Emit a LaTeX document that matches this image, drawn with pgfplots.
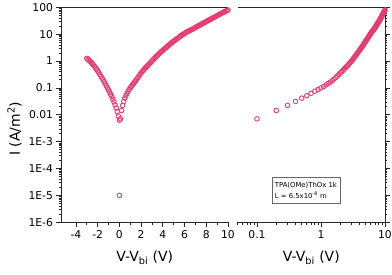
\documentclass[border=0pt]{standalone}
\usepackage{fontspec}
\setmainfont{DejaVu Sans}
\usepackage{pgfplots}
\usepackage{pgfplotstable}
\pgfplotsset{compat=1.18}
\definecolor{mkcol}{RGB}{232,58,112}

\pgfplotstableread{
V I
0.1 0.00708
0.2 0.0145
0.3 0.0224
0.4 0.0316
0.5 0.0417
0.6 0.0513
0.7 0.0631
0.8 0.0759
0.9 0.0871
1.0 0.100
1.1 0.1135
1.2 0.129
1.3 0.146
1.4 0.166
1.5 0.188
1.6 0.214
1.7 0.243
1.8 0.275
1.9 0.316
2.0 0.363
2.1 0.403
2.2 0.447
2.3 0.501
2.4 0.562
2.5 0.617
2.6 0.676
2.7 0.750
2.8 0.832
2.9 0.912
3.0 1.000
3.1 1.109
3.2 1.230
3.3 1.349
3.4 1.479
3.5 1.622
3.6 1.778
3.7 1.950
3.8 2.138
3.9 2.317
4.0 2.512
4.1 2.723
4.2 2.951
4.3 3.199
4.4 3.467
4.5 3.758
4.6 4.074
4.7 4.416
4.8 4.786
4.9 5.129
5.0 5.495
5.1 5.888
5.2 6.310
5.3 6.761
5.4 7.244
5.5 7.762
5.6 8.318
5.7 8.913
5.8 9.550
5.9 10.12
6.0 10.72
6.1 11.35
6.2 12.02
6.3 12.59
6.4 13.18
6.5 13.80
6.6 14.45
6.7 15.14
6.8 15.85
6.9 16.79
7.0 17.78
7.1 18.71
7.2 19.68
7.3 20.70
7.4 21.78
7.5 22.91
7.6 24.10
7.7 25.35
7.8 26.67
7.9 28.05
8.0 29.51
8.1 31.05
8.2 32.66
8.3 34.36
8.4 36.14
8.5 38.02
8.6 40.00
8.7 42.07
8.8 44.26
8.9 46.56
9.0 48.98
9.1 51.52
9.2 54.20
9.3 57.02
9.4 59.98
9.5 63.10
9.6 66.07
9.7 69.18
9.8 72.44
9.9 75.86
10.0 79.43
}\posdata

\pgfplotstableread{
V I
-3.0 1.259
-2.9 1.161
-2.8 1.072
-2.7 0.977
-2.6 0.891
-2.5 0.804
-2.4 0.724
-2.3 0.638
-2.2 0.562
-2.1 0.490
-2.0 0.427
-1.9 0.372
-1.8 0.316
-1.7 0.272
-1.6 0.234
-1.5 0.200
-1.4 0.170
-1.3 0.143
-1.2 0.120
-1.1 0.100
-1.0 0.0832
-0.9 0.0692
-0.8 0.0575
-0.7 0.0479
-0.6 0.0380
-0.5 0.0302
-0.4 0.0234
-0.3 0.0178
-0.2 0.0132
-0.1 0.0089
}\negdata

\pgfplotstableread{
V I
0.0 0.0063
0.0 0.00001
}\zerodata

\begin{document}
\begin{tikzpicture}
\useasboundingbox (-61.5bp,-52.7bp) rectangle (330.5bp,222.3bp);

\begin{semilogyaxis}[
  scale only axis,
  width=166.5bp, height=215bp,
  xmin=-5.33, xmax=10,
  ymin=1e-6, ymax=100,
  xtick={-4,-2,0,2,4,6,8,10},
  xticklabels={-4,-2,0,2,4,6,8,10},
  minor x tick num=1,
  ytick={1e-6,1e-5,1e-4,1e-3,0.01,0.1,1,10,100},
  yticklabels={1E-6,1E-5,1E-4,1E-3,0.01,0.1,1,10,100},
  minor ytick={2e-6,3e-6,4e-6,5e-6,6e-6,7e-6,8e-6,9e-6,
               2e-5,3e-5,4e-5,5e-5,6e-5,7e-5,8e-5,9e-5,
               2e-4,3e-4,4e-4,5e-4,6e-4,7e-4,8e-4,9e-4,
               0.002,0.003,0.004,0.005,0.006,0.007,0.008,0.009,
               0.02,0.03,0.04,0.05,0.06,0.07,0.08,0.09,
               0.2,0.3,0.4,0.5,0.6,0.7,0.8,0.9,
               2,3,4,5,6,7,8,9,
               20,30,40,50,60,70,80,90},
  xtick pos=bottom,
  ytick pos=left,
  axis line style={draw=none},
  tick style={black!85, line width=0.7pt},
  major tick length=5bp,
  minor tick length=2.5bp,
  tick align=outside,
  clip=false,
  tick label style={font=\fontsize{10.8}{12}\selectfont},
  label style={font=\fontsize{14}{16}\selectfont},
  xlabel={V-V\textsubscript{bi} (V)},
  ylabel={I (A/m\textsuperscript{2})},
  xlabel style={at={(axis description cs:0.5,0)}, anchor=center, yshift=-35.7bp},
  ylabel style={at={(axis description cs:-0.282,0.436)}, anchor=center},
]
\addplot[only marks, mark=o, mark size=2.3bp, mark options={draw=mkcol, line width=0.9bp}] table[x=V, y=I] {\negdata};
\addplot[only marks, mark=o, mark size=2.3bp, mark options={draw=mkcol, line width=0.9bp}] table[x=V, y=I] {\posdata};
\addplot[only marks, mark=o, mark size=2.3bp, mark options={draw=mkcol, line width=0.9bp}] table[x=V, y=I] {\zerodata};
\draw[black!85, line width=0.8pt] (rel axis cs:1,1) -- (rel axis cs:0,1) -- (rel axis cs:0,0) -- (rel axis cs:1,0);
\end{semilogyaxis}

\begin{loglogaxis}[
  at={(176.2bp,0)}, anchor=south west,
  scale only axis,
  width=147.3bp, height=215bp,
  xmin=0.05, xmax=10,
  ymin=1e-6, ymax=100,
  xtick={0.1,1,10},
  xticklabels={0.1,1,10},
  minor xtick={0.05,0.06,0.07,0.08,0.09,0.2,0.3,0.4,0.5,0.6,0.7,0.8,0.9,2,3,4,5,6,7,8,9},
  ytick={1e-6,1e-5,1e-4,1e-3,0.01,0.1,1,10,100},
  yticklabels={},
  minor ytick={2e-6,3e-6,4e-6,5e-6,6e-6,7e-6,8e-6,9e-6,
               2e-5,3e-5,4e-5,5e-5,6e-5,7e-5,8e-5,9e-5,
               2e-4,3e-4,4e-4,5e-4,6e-4,7e-4,8e-4,9e-4,
               0.002,0.003,0.004,0.005,0.006,0.007,0.008,0.009,
               0.02,0.03,0.04,0.05,0.06,0.07,0.08,0.09,
               0.2,0.3,0.4,0.5,0.6,0.7,0.8,0.9,
               2,3,4,5,6,7,8,9,
               20,30,40,50,60,70,80,90},
  xtick pos=bottom,
  ytick pos=right,
  axis line style={draw=none},
  tick style={black!85, line width=0.7pt},
  major tick length=5bp,
  minor tick length=2.5bp,
  tick align=outside,
  clip=false,
  tick label style={font=\fontsize{10.8}{12}\selectfont},
  label style={font=\fontsize{14}{16}\selectfont},
  xlabel={V-V\textsubscript{bi} (V)},
  xlabel style={at={(axis description cs:0.5,0)}, anchor=center, yshift=-35.7bp},
]
\addplot[only marks, mark=o, mark size=2.3bp, mark options={draw=mkcol, line width=0.9bp}] table[x=V, y=I] {\posdata};
\draw[black!85, line width=0.8pt] (rel axis cs:0,1) -- (rel axis cs:1,1) -- (rel axis cs:1,0) -- (rel axis cs:0,0);
\node[draw=black!60, fill=white, line width=0.5pt, align=left, anchor=center,
      font=\fontsize{6.9}{11}\selectfont, inner xsep=3bp, inner ysep=4.5bp]
  at (rel axis cs:0.463,0.149) {TPA(OMe)ThOx 1k\\L = 6.5x10\textsuperscript{-8} m};
\end{loglogaxis}
\end{tikzpicture}
\end{document}
